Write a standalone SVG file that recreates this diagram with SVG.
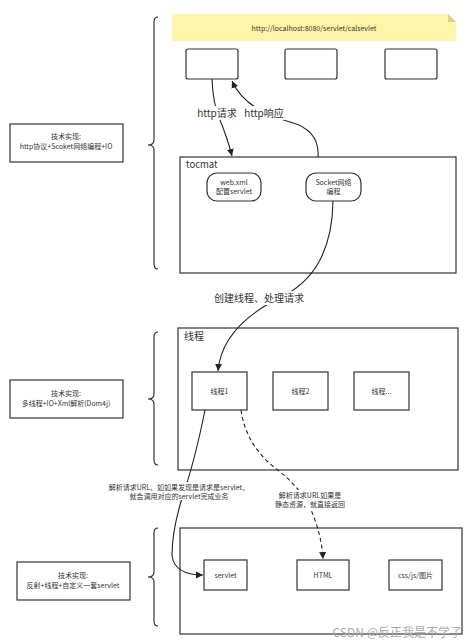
<svg xmlns="http://www.w3.org/2000/svg" width="474" height="642" viewBox="0 0 474 642">
<style>
text{font-family:"Noto Sans CJK SC","Noto Sans",sans-serif;fill:#333;}
.s{font-size:7px;text-anchor:middle;}
.m{font-size:10px;text-anchor:middle;}
.box{fill:#fff;stroke:#333;stroke-width:1.2;}
.ln{fill:none;stroke:#222;stroke-width:1.1;}
.dash{fill:none;stroke:#222;stroke-width:1.1;stroke-dasharray:4 3;}
</style>
<defs>
<marker id="ah" markerWidth="8" markerHeight="8" refX="7" refY="4" orient="auto" markerUnits="userSpaceOnUse">
<path d="M0,0.5 L7,4 L0,7.5 Z" fill="#222"/>
</marker>
</defs>
<rect width="474" height="642" fill="#fff"/>

<g id="braces" class="ln">
<path d="M158,17 Q154,17 154,22 L154,140 Q154,145 148,145 Q154,145 154,150 L154,264 Q154,269 158,269"/>
<path d="M158,332 Q154,332 154,337 L154,394 Q154,399 148,399 Q154,399 154,404 L154,460 Q154,465 158,465"/>
<path d="M158,528 Q154,528 154,533 L154,572 Q154,577 148,577 Q154,577 154,582 L154,621 Q154,626 158,626"/>
</g>

<g id="note">
<path d="M172,14 L448,14 L456,22 L456,41 L172,41 Z" fill="#fff4a8"/>
<path d="M448,14 L456,22 L448,22 Z" fill="#ddd08a"/>
<text class="s" x="314" y="30.5">http://localhost:8080/servlet/calsevlet</text>
</g>

<g id="client1"><rect class="box" x="186" y="49" width="52" height="30" rx="2"/></g>
<g id="client2"><rect class="box" x="285" y="49" width="52" height="30" rx="2"/></g>
<g id="client3"><rect class="box" x="385" y="49" width="52" height="30" rx="2"/></g>

<g id="tech1">
<rect class="box" x="10" y="124" width="113" height="38"/>
<text class="s" x="66" y="139">技术实现:</text>
<text class="s" x="66" y="149">http协议+Scoket网络编程+IO</text>
</g>

<g id="tocmat">
<rect class="box" x="180" y="157" width="276" height="116"/>
<text x="186" y="168" style="font-size:9.5px;">tocmat</text>
</g>
<g id="webxml">
<rect class="box" x="207" y="173" width="54" height="28" rx="10"/>
<text class="s" x="234" y="185">web.xml</text>
<text class="s" x="234" y="194">配置servlet</text>
</g>
<g id="socket">
<rect class="box" x="306" y="173" width="55" height="28" rx="10"/>
<text class="s" x="333.5" y="185">Socket网络</text>
<text class="s" x="333.5" y="194">编程</text>
</g>

<g id="threads">
<rect class="box" x="178" y="328" width="280" height="142"/>
<text x="184" y="340" style="font-size:10px;">线程</text>
</g>
<g id="thread1"><rect class="box" x="192" y="372" width="55" height="38"/><text class="s" x="219.5" y="394">线程1</text></g>
<g id="thread2"><rect class="box" x="273" y="372" width="55" height="38"/><text class="s" x="300.5" y="394">线程2</text></g>
<g id="thread3"><rect class="box" x="354" y="372" width="55" height="38"/><text class="s" x="381.5" y="394">线程...</text></g>

<g id="tech2">
<rect class="box" x="10" y="380" width="113" height="38"/>
<text class="s" x="66" y="396">技术实现:</text>
<text class="s" x="66" y="406">多线程+IO+Xml解析(Dom4j)</text>
</g>

<g id="resources">
<rect class="box" x="180" y="528" width="282" height="106"/>
</g>
<g id="servlet"><rect class="box" x="204" y="560" width="43" height="30"/><text class="s" x="225.5" y="578">servlet</text></g>
<g id="html"><rect class="box" x="297" y="560" width="52" height="30"/><text class="s" x="323" y="578">HTML</text></g>
<g id="static"><rect class="box" x="389" y="560" width="53" height="30"/><text class="s" x="415.5" y="578">css/js/图片</text></g>

<g id="tech3">
<rect class="box" x="17" y="562" width="113" height="38"/>
<text class="s" x="73" y="578">技术实现:</text>
<text class="s" x="73" y="588">反射+线程+自定义一套servlet</text>
</g>

<g id="connectors">
<path class="ln" d="M212,79 Q213,105 220,120 Q228,140 232,156" marker-end="url(#ah)"/>
<path class="ln" d="M318,157 Q320,130 290,122 Q245,110 232,81" marker-end="url(#ah)"/>
<path class="ln" d="M333,201 Q332,270 285,295 Q222,325 218,371" marker-end="url(#ah)"/>
<path class="ln" d="M205,410 Q195,460 183,495 Q172,530 172,555 Q174,575 203,575" marker-end="url(#ah)"/>
<path class="dash" d="M241,410 Q246,445 275,468 Q305,490 315,520 Q322,540 323,559" marker-end="url(#ah)"/>
</g>

<g id="labels">
<rect x="196" y="106" width="43" height="14" fill="#fff"/>
<text class="m" x="217" y="117">http请求</text>
<rect x="243" y="106" width="42" height="14" fill="#fff"/>
<text class="m" x="264" y="117">http响应</text>
<rect x="213" y="291" width="92" height="14" fill="#fff"/>
<text class="m" x="259" y="302">创建线程、处理请求</text>
<rect x="114" y="482" width="131" height="18" fill="#fff"/>
<text class="s" x="179" y="489.5">解析请求URL、如如果发现是请求是servlet、</text>
<text class="s" x="179" y="498.5">就会调用对应的servlet完成业务</text>
<rect x="272" y="490" width="74" height="19" fill="#fff"/>
<text class="s" x="310" y="498">解析请求URL如果是</text>
<text class="s" x="310" y="507">静态资源，就直接返回</text>
</g>

<text x="462" y="637" style="font-size:12px;fill:#aaa;text-anchor:end;">CSDN @反正我是不学了</text>
</svg>
